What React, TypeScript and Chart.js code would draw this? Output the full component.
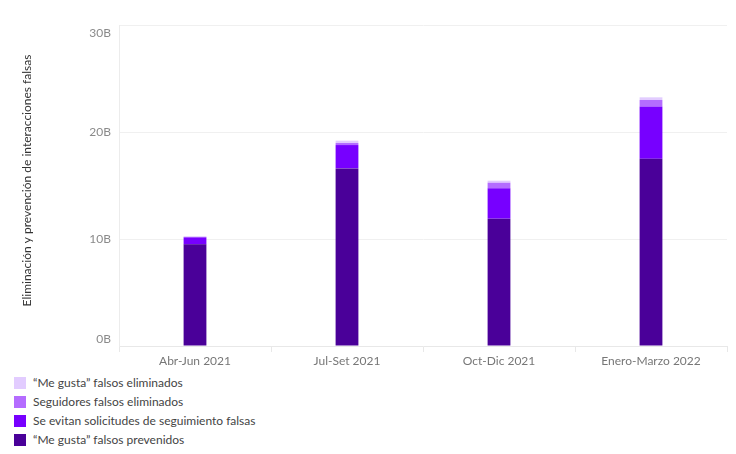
import React, { useEffect, useRef } from "react";
import { Chart, registerables } from "chart.js";

Chart.register(...registerables);

const categories = ["Abr-Jun 2021", "Jul-Set 2021", "Oct-Dic 2021", "Enero-Marzo 2022"];
const likesPrevented = [9.5, 16.6, 11.9, 17.5];
const followRequestsAvoided = [0.65, 2.18, 2.84, 4.85];
const followersRemoved = [0.05, 0.19, 0.52, 0.64];
const likesRemoved = [0.05, 0.22, 0.19, 0.25];
const yTicks = [0, 10, 20, 30];
const yTitle = "Eliminación y prevención de interacciones falsas";

const seriesLabels = [
  "\u201cMe gusta\u201d falsos prevenidos",
  "Se evitan solicitudes de seguimiento falsas",
  "Seguidores falsos eliminados",
  "\u201cMe gusta\u201d falsos eliminados",
];
const colors = ["#4a0099", "#7700ff", "#b46cff", "#e2ccff"];
const FONT = "Lato, 'Noto Sans', sans-serif";

const yAxisPlugin = {
  id: "yAxisText",
  afterDraw(chart: any) {
    const ctx = chart.ctx;
    const y = chart.scales.y;
    const area = chart.chartArea;
    ctx.save();
    ctx.font = `12px ${FONT}`;
    ctx.fillStyle = "#8a8a8a";
    ctx.textAlign = "right";
    ctx.textBaseline = "middle";
    yTicks.forEach((t) => {
      let py = y.getPixelForValue(t);
      py = Math.max(area.top + 8, Math.min(area.bottom - 7, py));
      ctx.fillText(`${t}B`, 111, py);
    });
    ctx.translate(27, (area.top + area.bottom) / 2 - 5);
    ctx.rotate(-Math.PI / 2);
    ctx.textAlign = "center";
    ctx.fillStyle = "#333333";
    ctx.font = `12px ${FONT}`;
    ctx.fillText(yTitle, 0, 0);
    ctx.restore();
  },
};

export default function App() {
  const ref = useRef<HTMLCanvasElement | null>(null);
  useEffect(() => {
    if (!ref.current) return;
    const data = [likesPrevented, followRequestsAvoided, followersRemoved, likesRemoved];
    const chart = new Chart(ref.current, {
      type: "bar",
      data: {
        labels: categories,
        datasets: data.map((d, i) => ({
          label: seriesLabels[i],
          data: d,
          backgroundColor: colors[i],
          borderWidth: 0,
          barPercentage: 0.15,
          categoryPercentage: 1,
        })),
      },
      options: {
        animation: false,
        responsive: false,
        maintainAspectRatio: false,
        layout: { padding: { top: 25, right: 9, left: 0, bottom: 0 } },
        plugins: { legend: { display: false }, tooltip: { enabled: false } },
        scales: {
          x: {
            stacked: true,
            offset: true,
            grid: {
              offset: true,
              drawOnChartArea: false,
              drawTicks: true,
              tickLength: 6,
              color: "#e8e8e8",
            },
            border: { color: "#e8e8e8" },
            ticks: {
              color: "#777777",
              font: { family: FONT, size: 12 },
              padding: 2,
              maxRotation: 0,
            },
            afterFit: (s: any) => {
              s.height = 24;
            },
          },
          y: {
            stacked: true,
            min: 0,
            max: 30,
            ticks: { display: false, stepSize: 10 },
            grid: { color: "#f0f0f0", drawTicks: false },
            border: { color: "#ececec" },
            afterFit: (s: any) => {
              s.width = 119;
            },
          },
        },
      },
      plugins: [yAxisPlugin],
    });
    return () => chart.destroy();
  }, []);

  const legendOrder = [3, 2, 1, 0];
  return (
    <div style={{ position: "absolute", left: 0, top: 0, width: 736, height: 454, background: "#fff", fontFamily: FONT }}>
      <canvas ref={ref} width={736} height={370} style={{ display: "block", width: 736, height: 370 }} />
      <div style={{ position: "absolute", left: 14, top: 373 }}>
        {legendOrder.map((i) => (
          <div key={i} style={{ display: "flex", alignItems: "center", height: 19 }}>
            <span style={{ width: 12, height: 12, background: colors[i], display: "inline-block", marginRight: 7 }} />
            <span style={{ fontSize: 12, color: "#444" }}>{seriesLabels[i]}</span>
          </div>
        ))}
      </div>
    </div>
  );
}
